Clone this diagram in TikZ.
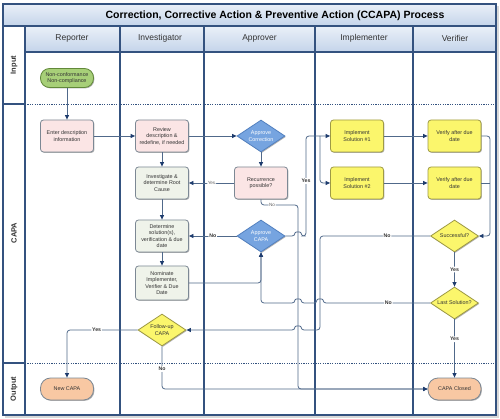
\documentclass[tikz,border=0pt]{standalone}
\usepackage{fontspec}
\setmainfont{Liberation Sans}
\usetikzlibrary{shapes.geometric,arrows.meta,shadows}
\definecolor{framecol}{HTML}{34527F}
\definecolor{headtop}{HTML}{EAF0F8}
\definecolor{headbot}{HTML}{C4D4EA}
\definecolor{linkcol}{HTML}{50698A}
\definecolor{tipcol}{HTML}{1E3C6E}
\definecolor{boxline}{HTML}{7C8894}
\definecolor{pinkfill}{HTML}{FBE5E5}
\definecolor{greyfill}{HTML}{EFF3EA}
\definecolor{yelfill}{HTML}{FBF66C}
\definecolor{yelline}{HTML}{9E9A45}
\definecolor{bluefill}{HTML}{76A4E0}
\definecolor{blueline}{HTML}{5381C0}
\definecolor{grnfill}{HTML}{A7CF78}
\definecolor{grnline}{HTML}{62893A}
\definecolor{orgfill}{HTML}{F8C8A3}
\definecolor{txtcol}{HTML}{333333}
\tikzset{
  nodefont/.style={font=\fontsize{5.4}{6.4}\selectfont},
  dropsh/.style={drop shadow={shadow xshift=0.9pt,shadow yshift=-0.9pt,fill=black,opacity=0.3}},
  procbox/.style={nodefont, rectangle, draw=boxline, line width=0.8pt, rounded corners=3pt,
    minimum width=53pt, minimum height=32pt, inner sep=1pt, align=center, text=txtcol, dropsh},
  pinkbox/.style={procbox, fill=pinkfill},
  greybox/.style={procbox, fill=greyfill},
  yelbox/.style={procbox, fill=yelfill, draw=yelline},
  decbox/.style={nodefont, diamond, aspect=1.5, inner sep=0pt, minimum width=48pt, minimum height=32pt,
    align=center, line width=0.8pt, dropsh},
  bluedec/.style={decbox, fill=bluefill, draw=blueline, text=white},
  yeldec/.style={decbox, fill=yelfill, draw=yelline, text=txtcol},
  termbox/.style={nodefont, rectangle, rounded corners=10pt, minimum width=53pt, minimum height=22pt,
    inner sep=1pt, align=center, line width=0.8pt, text=txtcol, dropsh},
  grnterm/.style={termbox, fill=grnfill, draw=grnline, minimum height=19pt, rounded corners=9pt},
  orgterm/.style={termbox, fill=orgfill, draw=boxline},
  flowline/.style={draw=linkcol, line width=0.8pt, rounded corners=3pt},
  arrowline/.style={flowline, -{Triangle[length=4.5pt,width=4pt,color=tipcol]}},
  edgelbl/.style={font=\bfseries\fontsize{5.2}{6}\selectfont, text=txtcol, fill=white, inner sep=1pt},
  smalllbl/.style={font=\fontsize{4.6}{5}\selectfont, text=black!60, fill=white, inner sep=0.8pt},
  headtxt/.style={font=\fontsize{8.5}{10}\selectfont, text=txtcol},
  lanetxt/.style={font=\bfseries\fontsize{7.5}{9}\selectfont, text=txtcol, rotate=90},
  gridline/.style={draw=framecol, line width=1.1pt},
  dotline/.style={draw=framecol, line width=0.8pt, dash pattern=on 1.2pt off 1.2pt}
}
\begin{document}
\begin{tikzpicture}[x=1pt,y=-1pt]
\useasboundingbox (0,0) rectangle (500,419);
\fill[white] (0,0) rectangle (500,419);
\fill[black!15] (5,6) rectangle (499,418);
\fill[white] (3,4) rectangle (496,415);
% title bar and headers
\shade[top color=headtop, bottom color=headbot] (3,4) rectangle (496,26);
\foreach \a/\b in {25/120,120/204,204/315,315/413,413/496}
  \shade[top color=headtop, bottom color=headbot] (\a,26) rectangle (\b,52);
\node[font=\bfseries\fontsize{10.5}{12}\selectfont] (title) at (275,15.5) {Correction, Corrective Action \& Preventive Action (CCAPA) Process};
\node[headtxt] (hrep) at (72,38) {Reporter};
\node[headtxt] (hinv) at (160,38) {Investigator};
\node[headtxt] (happ) at (259.5,38) {Approver};
\node[headtxt] (himp) at (364,38) {Implementer};
\node[headtxt] (hver) at (455,38) {Verifier};
\node[lanetxt] (linput) at (14,65) {Input};
\node[lanetxt] (lcapa) at (14,233) {CAPA};
\node[lanetxt] (loutput) at (14,389) {Output};
% grid
\draw[gridline] (3,4) rectangle (496,415);
\draw[gridline] (3,26) -- (496,26);
\draw[gridline] (25,52) -- (496,52);
\foreach \x in {25,120,204,315,413} \draw[gridline] (\x,26) -- (\x,415);
\draw[gridline] (3,104) -- (25,104);
\draw[gridline] (3,363) -- (25,363);
\draw[dotline] (25,104) -- (496,104);
\draw[dotline] (25,363) -- (496,363);
% nodes
\node[grnterm] (nc) at (67,78) {Non-conformance\\Non-compliance};
\node[pinkbox] (enter) at (67,136) {Enter description\\information};
\node[pinkbox] (review) at (162,136) {Review\\description \&\\redefine, if needed};
\node[bluedec] (apcor) at (261,136) {Approve\\Correction};
\node[yelbox] (imp1) at (357,136) {Implement\\Solution \#1};
\node[yelbox] (ver1) at (454.5,136) {Verify after due\\date};
\node[greybox] (inv) at (162,183) {Investigate \&\\determine Root\\Cause};
\node[pinkbox] (rec) at (261,183) {Recurrence\\possible?};
\node[yelbox] (imp2) at (357,183) {Implement\\Solution \#2};
\node[yelbox] (ver2) at (454.5,183) {Verify after due\\date};
\node[greybox] (det) at (162,236) {Determine\\solution(s),\\verification \& due\\date};
\node[bluedec] (apcapa) at (261,236) {Approve\\CAPA};
\node[yeldec] (succ) at (454.5,236) {Successful?};
\node[greybox, minimum height=34pt] (nom) at (162,283) {Nominate\\Implementer,\\Verifier \& Due\\Date};
\node[yeldec] (fup) at (162,330) {Follow-up\\CAPA};
\node[yeldec] (last) at (454.5,303) {Last Solution?};
\node[orgterm] (newcapa) at (67,389) {New CAPA};
\node[orgterm] (closed) at (454.5,389) {CAPA Closed};
% junction coordinates
\coordinate (jimp) at (320,136);
\coordinate (jver) at (490,183);
% connectors
\draw[arrowline] (nc) -- (enter);
\draw[arrowline] (enter) -- (review);
\draw[arrowline] (review) -- (apcor);
\draw[arrowline] (apcor) -- (rec);
\draw[arrowline] (rec) -- node[smalllbl] (lrecyes) {Yes} (inv);
\draw[arrowline] (review) -- (inv);
\draw[arrowline] (inv) -- (det);
\draw[arrowline] (det) -- (nom);
\draw[arrowline] (nom.east) -| (apcapa.south);
\draw[arrowline] (apcapa) -- node[edgelbl] (lcapano) {No} (det);
\draw[arrowline] (apcapa.east) -- (295,236) .. controls (295,231.5) and (301,231.5) .. (301,236)
  -- (306,236) -- node[edgelbl, pos=0.55] (lcapayes) {Yes} (306,136) -- (imp1.west);
\draw[arrowline] (jimp) |- (imp2.west);
\draw[arrowline] (imp1) -- (ver1);
\draw[arrowline] (imp2) -- (ver2);
\draw[arrowline] (ver1.east) -- (490,136) -- (490,236) -- (succ.east);
\draw[flowline] (ver2.east) -- (jver);
\draw[arrowline] (succ.west) -- node[edgelbl, pos=0.39] (lsuccno) {No} (320,236) -- (320,330)
  -- (301,330) .. controls (301,325.5) and (295,325.5) .. (295,330) -- (fup.east);
\draw[arrowline] (succ) -- node[edgelbl] (lsuccyes) {Yes} (last);
\draw[arrowline] (last.west) -- node[edgelbl, pos=0.39] (llastno) {No} (323,303)
  .. controls (323,298.5) and (317,298.5) .. (317,303) -- (301,303)
  .. controls (301,298.5) and (295,298.5) .. (295,303) -- (261,303) -- (apcapa.south);
\draw[arrowline] (last) -- node[edgelbl, pos=0.34] (llastyes) {Yes} (closed);
\draw[arrowline] (rec.south) -- (261,205) -- node[smalllbl, pos=0.3] (lrecno) {No} (298,205) -- (298,389) -- (closed.west);
\draw[arrowline] (fup.west) -- node[edgelbl, pos=0.58] (lfupyes) {Yes} (67,330) -- (newcapa.north);
\draw[arrowline] (fup.south) -- node[edgelbl, pos=0.53] (lfupno) {No} (162,389) -- (closed.west);
\end{tikzpicture}
\end{document}
